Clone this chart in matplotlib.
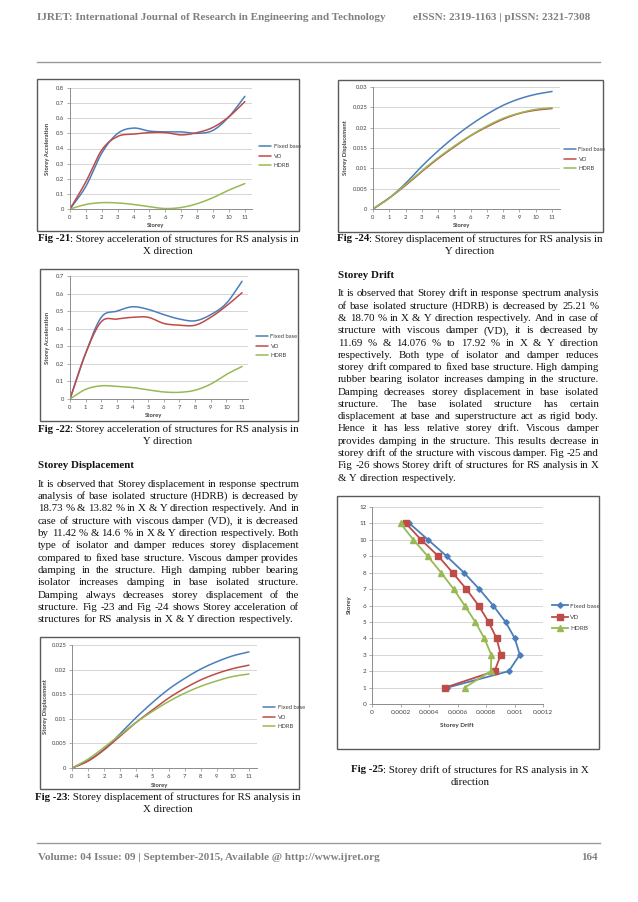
import numpy as np
import matplotlib.pyplot as plt
from matplotlib.patches import Rectangle
from matplotlib.lines import Line2D
from matplotlib.ticker import FuncFormatter

W, H = 638, 902

# ---- data ----
storeys = [0, 1, 2, 3, 4, 5, 6, 7, 8, 9, 10, 11]
series_names = ['Fixed base', 'VD', 'HDRB']

# Fig -21 storey acceleration, X
acc_x_fixed = [0, 0.15, 0.37, 0.50, 0.535, 0.515, 0.51, 0.51, 0.50, 0.52, 0.61, 0.745]
acc_x_vd = [0, 0.18, 0.39, 0.48, 0.495, 0.505, 0.505, 0.49, 0.505, 0.54, 0.61, 0.71]
acc_x_hdrb = [0, 0.03, 0.042, 0.04, 0.03, 0.015, 0.003, 0.01, 0.035, 0.075, 0.125, 0.168]

# Fig -22 storey acceleration, Y
acc_y_fixed = [0, 0.26, 0.465, 0.50, 0.525, 0.51, 0.48, 0.455, 0.445, 0.48, 0.545, 0.67]
acc_y_vd = [0, 0.26, 0.44, 0.455, 0.465, 0.465, 0.43, 0.42, 0.42, 0.465, 0.53, 0.605]
acc_y_hdrb = [0, 0.055, 0.075, 0.072, 0.065, 0.052, 0.04, 0.038, 0.05, 0.085, 0.14, 0.185]

# Fig -23 storey displacement, X
disp_x_fixed = [0, 0.0015, 0.0038, 0.007, 0.0103, 0.0133, 0.016, 0.0182, 0.0201, 0.0216, 0.0228, 0.0236]
disp_x_vd = [0, 0.0014, 0.0037, 0.0065, 0.0093, 0.0118, 0.0142, 0.0162, 0.0179, 0.0192, 0.0202, 0.0209]
disp_x_hdrb = [0, 0.0018, 0.0042, 0.0068, 0.0093, 0.0115, 0.0135, 0.0152, 0.0166, 0.0177, 0.0186, 0.0191]

# Fig -24 storey displacement, Y
disp_y_fixed = [0, 0.0027, 0.0063, 0.0105, 0.0143, 0.0177, 0.0207, 0.0233, 0.0255, 0.0271, 0.0282, 0.0289]
disp_y_vd = [0, 0.0027, 0.0058, 0.0092, 0.0124, 0.0153, 0.018, 0.0202, 0.0221, 0.0235, 0.0243, 0.0247]
disp_y_hdrb = [0, 0.0027, 0.006, 0.0094, 0.0126, 0.0155, 0.0181, 0.0204, 0.0223, 0.0236, 0.0245, 0.0249]

# Fig -25 storey drift, X
drift_storeys = [1, 2, 3, 4, 5, 6, 7, 8, 9, 10, 11]
drift_x_fixed = [0.000529, 0.00096, 0.001037, 0.001002, 0.000937, 0.00085, 0.000753, 0.000645, 0.000524, 0.000394, 0.000263]
drift_x_vd = [0.000513, 0.00086, 0.000904, 0.000874, 0.000818, 0.000748, 0.000662, 0.000566, 0.000466, 0.000345, 0.000238]
drift_x_hdrb = [0.00065, 0.000834, 0.000837, 0.000788, 0.000725, 0.00065, 0.000573, 0.000485, 0.000391, 0.000291, 0.0002]

colors = ['#4a7ebb', '#be4b48', '#98b954']
markers = ['D', 's', '^']
msizes = [2.8, 4.4, 4.0]

header_left = 'IJRET: International Journal of Research in Engineering and Technology'
header_right = 'eISSN: 2319-1163 | pISSN: 2321-7308'
footer_left = 'Volume: 04 Issue: 09 | September-2015, Available @ http://www.ijret.org'
footer_right = '164'

disp_lines = [
    'It is observed that Storey displacement in response spectrum',
    'analysis of base isolated structure (HDRB) is decreased by',
    '18.73 % & 13.82 % in X & Y direction respectively. And in',
    'case of structure with viscous damper (VD), it is decreased',
    'by 11.42 % & 14.6 % in X & Y direction respectively. Both',
    'type of isolator and damper reduces storey displacement',
    'compared to fixed base structure. Viscous damper provides',
    'damping in the structure. High damping rubber bearing',
    'isolator increases damping in base isolated structure.',
    'Damping always decreases storey displacement of the',
    'structure. Fig -23 and Fig -24 shows Storey acceleration of',
    'structures for RS analysis in X & Y direction respectively.',
]
drift_lines = [
    'It is observed that Storey drift in response spectrum analysis',
    'of base isolated structure (HDRB) is decreased by 25.21 %',
    '& 18.70 % in X & Y direction respectively. And in case of',
    'structure with viscous damper (VD), it is decreased by',
    '11.69 % & 14.076 % to 17.92 % in X & Y direction',
    'respectively. Both type of isolator and damper reduces',
    'storey drift compared to fixed base structure. High damping',
    'rubber bearing isolator increases damping in the structure.',
    'Damping decreases storey displacement in base isolated',
    'structure. The base isolated structure has certain',
    'displacement at base and superstructure act as rigid body.',
    'Hence it has less relative storey drift. Viscous damper',
    'provides damping in the structure. This results decrease in',
    'storey drift of the structure with viscous damper. Fig -25 and',
    'Fig -26 shows Storey drift of structures for RS analysis in X',
    '& Y direction respectively.',
]

SERIF = 'Liberation Serif'
CHART = 'Lato'
BODY = 7.8
HEAD = 8.0

fig = plt.figure(figsize=(W / 100, H / 100), dpi=100)
fig.patch.set_facecolor('white')
rend = fig.canvas.get_renderer()


def fx(px):
    return px / W


def fy(py):
    return 1 - py / H


def box(l, t, r, b):
    fig.add_artist(Rectangle((fx(l), fy(b)), fx(r - l), (b - t) / H, transform=fig.transFigure,
                             fill=False, ec='#5a5a5a', lw=1.0))


def hline(x0, x1, y, color='#9a9a9a', lw=1.0):
    fig.add_artist(Line2D([fx(x0), fx(x1)], [fy(y), fy(y)], transform=fig.transFigure, color=color, lw=lw))


def smooth(x, y, n=20):
    # catmull-rom, roughly what excel does for "smoothed line"
    x = np.asarray(x, float)
    y = np.asarray(y, float)
    px = np.concatenate([[2 * x[0] - x[1]], x, [2 * x[-1] - x[-2]]])
    py = np.concatenate([[2 * y[0] - y[1]], y, [2 * y[-1] - y[-2]]])
    t = np.linspace(0, 1, n, endpoint=False)
    xs, ys = [], []
    for i in range(1, len(px) - 2):
        for arr, out in ((px, xs), (py, ys)):
            p0, p1, p2, p3 = arr[i - 1:i + 3]
            out.extend(0.5 * (2 * p1 + (-p0 + p2) * t + (2 * p0 - 5 * p1 + 4 * p2 - p3) * t ** 2
                              + (-p0 + 3 * p1 - 3 * p2 + p3) * t ** 3))
    xs.append(x[-1])
    ys.append(y[-1])
    return xs, ys


def style(ax, fs):
    for s in ['top', 'right']:
        ax.spines[s].set_visible(False)
    for s in ['left', 'bottom']:
        ax.spines[s].set_color('#8c8c8c')
        ax.spines[s].set_linewidth(0.7)
    ax.grid(axis='y', color='#cfcfcf', lw=0.6)
    ax.set_axisbelow(True)
    ax.tick_params(labelsize=fs, color='#8c8c8c', labelcolor='#404040', length=2, width=0.5, pad=2)
    for lab in ax.get_xticklabels() + ax.get_yticklabels():
        lab.set_family(CHART)
    ax.yaxis.set_major_formatter(FuncFormatter(lambda v, p: '%g' % round(v, 6)))


def line_chart(l, t, r, b, xmax, ymax, ystep, series, ylabel, legend_xy, xlab_y, ylab_x):
    ax = fig.add_axes([fx(l), fy(b), fx(r - l), (b - t) / H])
    for ys, c, name in zip(series, colors, series_names):
        sx, sy = smooth(storeys, ys)
        ax.plot(sx, sy, color=c, lw=1.1, label=name, solid_capstyle='round')
    ax.set_xlim(0, xmax)
    ax.set_ylim(0, ymax)
    ax.set_xticks(storeys)
    ax.set_yticks(np.arange(0, ymax + ystep / 2, ystep))
    style(ax, 4.2)
    fig.text(fx((l + r) / 2 - 5), fy(xlab_y), 'Storey', fontsize=4.2, weight='bold', family=CHART,
             ha='center', va='center', color='#404040')
    fig.text(fx(ylab_x), fy((t + b) / 2), ylabel, fontsize=4.2, weight='bold', family=CHART,
             ha='center', va='center', rotation=90, color='#404040')
    ax.legend(loc='center left', bbox_to_anchor=(fx(legend_xy[0]), fy(legend_xy[1])),
              bbox_transform=fig.transFigure, frameon=False, prop={'family': CHART, 'size': 4.2},
              handlelength=2.1, handletextpad=0.4, labelspacing=0.75, borderpad=0, labelcolor='#404040')
    return ax


def justified(lines, x0, x1, y0, dy, size):
    space = size * 100 / 72 * 0.25
    for k, line in enumerate(lines):
        y = fy(y0 + k * dy)
        words = line.split(' ')
        texts = [fig.text(0, y, w, fontsize=size, family=SERIF, va='center', color='#111111') for w in words]
        widths = [tt.get_window_extent(rend).width for tt in texts]
        if k == len(lines) - 1 or len(words) == 1:
            gap = space
        else:
            gap = (x1 - x0 - sum(widths)) / (len(words) - 1)
        x = x0
        for tt, w in zip(texts, widths):
            tt.set_x(fx(x))
            x += w + gap


def caption(bold, rest, second, cx, y, size=BODY, dy=12.5):
    tb = fig.text(0, fy(y), bold, fontsize=size, family=SERIF, weight='bold', va='center', color='#111111')
    tr = fig.text(0, fy(y), rest, fontsize=size, family=SERIF, va='center', color='#111111')
    wb = tb.get_window_extent(rend).width
    wr = tr.get_window_extent(rend).width
    x = cx - (wb + wr) / 2
    tb.set_x(fx(x))
    tr.set_x(fx(x + wb))
    fig.text(fx(cx), fy(y + dy), second, fontsize=size, family=SERIF, ha='center', va='center', color='#111111')


# ---- header / footer ----
fig.text(fx(37), fy(18), header_left, fontsize=HEAD, family=SERIF, weight='bold', color='#808080', va='center')
fig.text(fx(590), fy(18), header_right, fontsize=HEAD, family=SERIF, weight='bold', color='#808080',
         va='center', ha='right')
hline(37, 600, 62)
hline(37, 600, 843)
fig.text(fx(38), fy(857), footer_left, fontsize=HEAD, family=SERIF, weight='bold', color='#808080', va='center')
fig.text(fx(598), fy(857), footer_right, fontsize=HEAD, family=SERIF, weight='bold', color='#808080',
         va='center', ha='right')

# ---- Fig -21 ----
box(37, 79, 299, 231)
line_chart(70, 88, 252, 209, 11.45, 0.8, 0.1, [acc_x_fixed, acc_x_vd, acc_x_hdrb],
           'Storey Acceleration', (256, 156), 226, 48)
caption('Fig -21', ': Storey acceleration of structures for RS analysis in', 'X direction', 168, 239)

# ---- Fig -22 ----
box(40, 269, 298, 421)
line_chart(70, 276, 248, 399, 11.38, 0.7, 0.1, [acc_y_fixed, acc_y_vd, acc_y_hdrb],
           'Storey Acceleration', (253, 346), 416, 48)
caption('Fig -22', ': Storey acceleration of structures for RS analysis in', 'Y direction', 168, 429)

# ---- Storey Displacement text ----
fig.text(fx(38), fy(465), 'Storey Displacement', fontsize=BODY, family=SERIF, weight='bold', va='center',
         color='#111111')
justified(disp_lines, 38, 299, 484, 12.36, BODY)

# ---- Fig -23 ----
box(40, 637, 299, 789)
line_chart(72, 645, 257, 768, 11.5, 0.025, 0.005, [disp_x_fixed, disp_x_vd, disp_x_hdrb],
           'Storey Displacement', (260, 717), 785, 46)
caption('Fig -23', ': Storey displacement of structures for RS analysis in', 'X direction', 168, 797)

# ---- Fig -24 ----
box(338, 80, 603, 232)
line_chart(373, 87, 560, 209, 11.49, 0.03, 0.005, [disp_y_fixed, disp_y_vd, disp_y_hdrb],
           'Storey Displacement', (561, 159), 226, 345)
caption('Fig -24', ': Storey displacement of structures for RS analysis in', 'Y direction', 470, 239)

# ---- Storey Drift text ----
fig.text(fx(338), fy(276), 'Storey Drift', fontsize=BODY, family=SERIF, weight='bold', va='center',
         color='#111111')
justified(drift_lines, 338, 599, 294, 12.27, BODY)

# ---- Fig -25 ----
box(337, 496, 599, 749)
ax = fig.add_axes([fx(372), fy(704), fx(543 - 372), (704 - 507) / H])
for xs, c, m, ms, name in zip([drift_x_fixed, drift_x_vd, drift_x_hdrb], colors, markers, msizes, series_names):
    ax.plot(xs, drift_storeys, color=c, lw=1.3, marker=m, ms=ms, label=name)
ax.set_xlim(0, 0.0012)
ax.set_ylim(0, 12)
ax.set_xticks(np.arange(0, 0.00121, 0.0002))
ax.set_yticks(range(0, 13))
style(ax, 4.6)
ax.xaxis.set_major_formatter(FuncFormatter(lambda v, p: '%g' % round(v, 6)))
fig.text(fx(457), fy(726), 'Storey Drift', fontsize=4.6, weight='bold', family=CHART, ha='center',
         va='center', color='#404040')
fig.text(fx(349), fy(605), 'Storey', fontsize=4.6, weight='bold', family=CHART, ha='center',
         va='center', rotation=90, color='#404040')
ax.legend(loc='center left', bbox_to_anchor=(fx(549), fy(617)), bbox_transform=fig.transFigure,
          frameon=False, prop={'family': CHART, 'size': 4.6}, handlelength=2.4, handletextpad=0.4,
          labelspacing=0.9, borderpad=0, labelcolor='#404040')
caption('Fig -25', ': Storey drift of structures for RS analysis in X', 'direction', 470, 770)

fig.savefig('out.png', dpi=100, facecolor='white')
